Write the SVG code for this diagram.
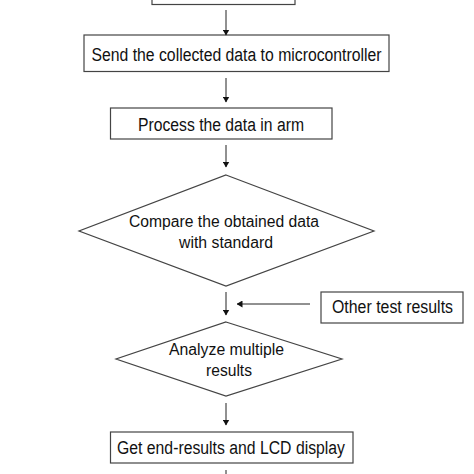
<svg xmlns="http://www.w3.org/2000/svg" width="474" height="474" viewBox="0 0 474 474">
<style>
.box{fill:#fff;stroke:#444;stroke-width:1.2}
.t{font-family:"Liberation Sans",Arial,sans-serif;font-size:18px;fill:#111;text-anchor:middle}
.d{font-size:16px}
.c{stroke:#222;stroke-width:1;fill:none}
</style>
<defs>
<marker id="ah" markerWidth="6" markerHeight="7" refX="5.5" refY="3.5" orient="auto" markerUnits="userSpaceOnUse">
<path d="M0,0 L6,3.5 L0,7 Z" fill="#111"/>
</marker>
</defs>
<rect width="474" height="474" fill="#fff"/>
<g id="n0"><rect class="box" x="152" y="-10" width="143" height="14.5"/></g>
<g id="n1"><rect class="box" x="84" y="35" width="305" height="36.5"/>
<text class="t" x="236.5" y="60.7" textLength="290" lengthAdjust="spacingAndGlyphs">Send the collected data to microcontroller</text></g>
<g id="n2"><rect class="box" x="110.5" y="108" width="221.5" height="31"/>
<text class="t" x="221" y="131" textLength="166" lengthAdjust="spacingAndGlyphs">Process the data in arm</text></g>
<g id="n3"><polygon class="box" points="226,175 374,231 226,286 79,231"/>
<text class="t d" x="224" y="227.3" textLength="190" lengthAdjust="spacingAndGlyphs">Compare the obtained data</text>
<text class="t d" x="226" y="247.7" textLength="94" lengthAdjust="spacingAndGlyphs">with standard</text></g>
<g id="n4"><rect class="box" x="321" y="292" width="142" height="31"/>
<text class="t" x="392.5" y="312.7" textLength="121" lengthAdjust="spacingAndGlyphs">Other test results</text></g>
<g id="n5"><polygon class="box" points="226,322 342,359 226,396 116,359"/>
<text class="t d" x="226.5" y="355" textLength="115" lengthAdjust="spacingAndGlyphs">Analyze multiple</text>
<text class="t d" x="229" y="375.7" textLength="46" lengthAdjust="spacingAndGlyphs">results</text></g>
<g id="n6"><rect class="box" x="110.5" y="432" width="242.5" height="31"/>
<text class="t" x="231" y="454.3" textLength="228" lengthAdjust="spacingAndGlyphs">Get end-results and LCD display</text></g>
<g id="connectors">
<line class="c" x1="226" y1="10" x2="226" y2="35" marker-end="url(#ah)"/>
<line class="c" x1="226" y1="78" x2="226" y2="102" marker-end="url(#ah)"/>
<line class="c" x1="226" y1="145" x2="226" y2="167" marker-end="url(#ah)"/>
<line class="c" x1="226" y1="292" x2="226" y2="315" marker-end="url(#ah)"/>
<line class="c" x1="310" y1="304" x2="237" y2="304" marker-end="url(#ah)"/>
<line class="c" x1="226" y1="403" x2="226" y2="425" marker-end="url(#ah)"/>
<line class="c" x1="226" y1="470" x2="226" y2="476"/>
</g>
</svg>
